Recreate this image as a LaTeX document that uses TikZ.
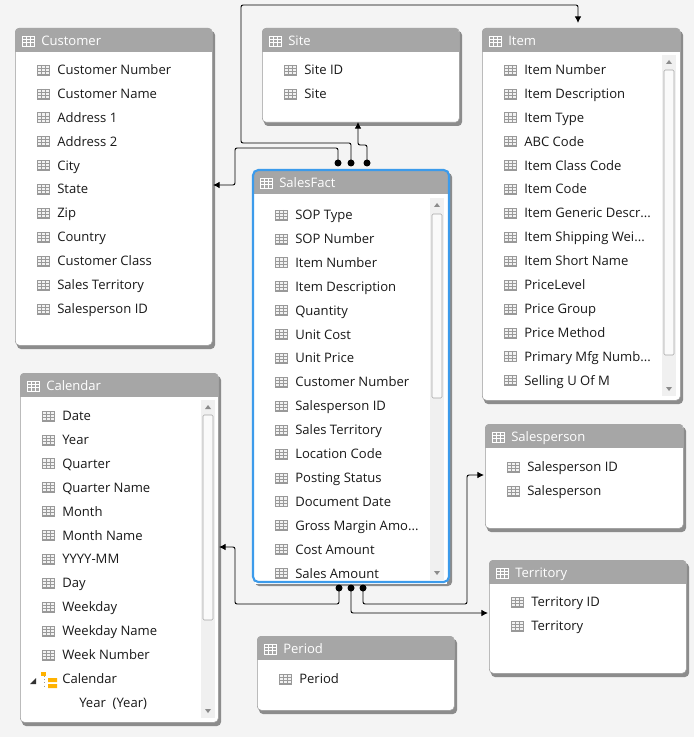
\documentclass[tikz,border=0pt]{standalone}
\usepackage{fontspec}
\setmainfont{Open Sans}
\usetikzlibrary{arrows.meta}
\definecolor{hdr}{HTML}{A6A6A6}
\definecolor{bord}{HTML}{9A9A9A}
\definecolor{sel}{HTML}{3C9BEB}
\definecolor{bg}{HTML}{F4F4F4}
\newcommand\elp{...}
\tikzset{x=0.75pt,y=-0.75pt,
 tbl/.style={draw=bord, fill=white, rounded corners=3pt, anchor=north west, inner sep=0pt},
 shad/.style={fill=black!45, rounded corners=3pt},
 rowtxt/.style={anchor=base west, font=\fontsize{9.8}{11}\selectfont, inner sep=0pt, text=black!90},
 ttl/.style={anchor=base west, font=\fontsize{9.8}{11}\selectfont, inner sep=0pt, text=white},
 ticon/.pic={\draw[black!40,fill=black!5,line width=0.5pt] (-6,-5) rectangle (6,5);
   \draw[black!40,line width=0.4pt] (-6,-2)--(6,-2) (-6,1)--(6,1) (-6,4)--(6,4) (-2,-5)--(-2,5) (2,-5)--(2,5);},
 hicon/.pic={\draw[white,line width=0.5pt] (-6,-5) rectangle (6,5);
   \draw[white,line width=0.4pt] (-6,-2)--(6,-2) (-6,1)--(6,1) (-2,-5)--(-2,5) (2,-5)--(2,5);},
 conn/.style={draw=black, line width=0.7pt, rounded corners=1.5pt},
 tip/.style={-{Latex[length=5pt,width=5pt]}},
 dot/.style={fill=black, circle, inner sep=0pt, minimum size=7*0.75pt}
}
% #1 name #2 x #3 y #4 w #5 h #6 title #7 first-row offset #8 rows
\newcommand\mktable[8]{%
 \fill[shad] (#2+2,#3+3) rectangle (#2+#4+3,#3+#5+4);
 \node[tbl, minimum width=#4*0.75pt, minimum height=#5*0.75pt] (#1) at (#2,#3) {};
 \begin{scope}
  \clip[rounded corners=3pt] (#2,#3) rectangle (#2+#4,#3+#5);
  \fill[hdr] (#2,#3) rectangle (#2+#4,#3+24);
 \end{scope}
 \pic at (#2+13,#3+13) {hicon};
 \node[ttl] (#1-t) at (#2+26,#3+17.5) {#6};
 \foreach \t [count=\i] in {#8} {
   \pic at (#2+28,#3+#7+\i*23.9-23.9) {ticon};
   \node[rowtxt] (#1-\i) at (#2+42,#3+#7+4.5+\i*23.9-23.9) {\t};
 }
}
\newcommand\scrollbar[4]{% x ytop ybot thumb
 \fill[black!6] (#1,#2) rectangle (#1+14,#3);
 \fill[black!45] (#1+7,#2+5) -- (#1+4,#2+9) -- (#1+10,#2+9) -- cycle;
 \fill[black!45] (#1+7,#3-5) -- (#1+4,#3-9) -- (#1+10,#3-9) -- cycle;
 \draw[black!35,fill=black!2,rounded corners=1pt] #4;
}
\begin{document}
\begin{tikzpicture}
\fill[bg] (0,0) rectangle (694,737);
\useasboundingbox (0,0) rectangle (694,737);
\mktable{cust}{15}{28}{197}{317}{Customer}{42}{Customer Number,Customer Name,Address 1,Address 2,City,State,Zip,Country,Customer Class,Sales Territory,Salesperson ID}
\mktable{site}{262}{28}{197}{94}{Site}{42}{Site ID,Site}
\mktable{item}{482}{28}{198}{372}{Item}{42}{Item Number,Item Description,Item Type,ABC Code,Item Class Code,Item Code,Item Generic Descr\elp,Item Shipping Wei\elp,Item Short Name,PriceLevel,Price Group,Price Method,Primary Mfg Numb\elp,Selling U Of M}
\scrollbar{662}{55}{396}{(664,70) rectangle (674,355)}
\mktable{cal}{20}{373}{198}{349}{Calendar}{43}{Date,Year,Quarter,Quarter Name,Month,Month Name,YYYY-MM,Day,Weekday,Weekday Name,Week Number}
\scrollbar{201}{400}{718}{(203,415) rectangle (213,620)}
\fill[black!80] (36,678) -- (36,684) -- (30,684) -- cycle;
\fill[orange!60!yellow] (41,672) rectangle (46,676);
\fill[orange!60!yellow] (48,678) rectangle (57,682) (48,684) rectangle (57,688);
\draw[black!40,dotted] (44,676) -- (44,688);
\node[rowtxt] (cal-12) at (62,683.5) {Calendar};
\node[rowtxt] (cal-13) at (79,707.5) {Year\ \ (Year)};
\mktable{sp}{485}{424}{198}{104}{Salesperson}{43}{Salesperson ID,Salesperson}
\mktable{ter}{489}{560}{197}{113}{Territory}{42}{Territory ID,Territory}
\mktable{per}{257}{636}{197}{74}{Period}{43}{Period}
\mktable{sf}{253}{170}{196}{412}{SalesFact}{45}{SOP Type,SOP Number,Item Number,Item Description,Quantity,Unit Cost,Unit Price,Customer Number,Salesperson ID,Sales Territory,Location Code,Posting Status,Document Date,Gross Margin Amo\elp,Cost Amount,Sales Amount}
\fill[white] (255,581) rectangle (447,584);
\scrollbar{430}{198}{580}{(432,214) rectangle (442,398)}
\draw[sel, line width=1.6pt, rounded corners=4pt] (253,170) rectangle (449,582);
\node[dot] (d1) at (338,163) {};
\node[dot] (d2) at (351,163) {};
\node[dot] (d3) at (367,163) {};
\node[dot] (d4) at (339,588) {};
\node[dot] (d5) at (351,588) {};
\node[dot] (d6) at (363,588) {};
\coordinate (aCust) at (213,185);
\coordinate (aItem) at (578,23);
\coordinate (aSite) at (358,122);
\coordinate (aCal) at (219,547);
\coordinate (aTer) at (488,613);
\coordinate (aSp) at (484,475);
\draw[conn,tip] (d1.center) -- (338,148) -- (235,148) -- (235,185) -- (aCust);
\draw[conn,tip] (d2.center) -- (351,143) -- (241,143) -- (241,5) -- (578,5) -- (aItem);
\draw[conn,tip] (d3.center) -- (367,145) -- (358,145) -- (aSite);
\draw[conn,tip] (d4.center) -- (339,604) -- (235,604) -- (235,547) -- (aCal);
\draw[conn,tip] (d5.center) -- (351,613) -- (aTer);
\draw[conn,tip] (d6.center) -- (363,604) -- (467,604) -- (467,475) -- (aSp);
\end{tikzpicture}
\end{document}
